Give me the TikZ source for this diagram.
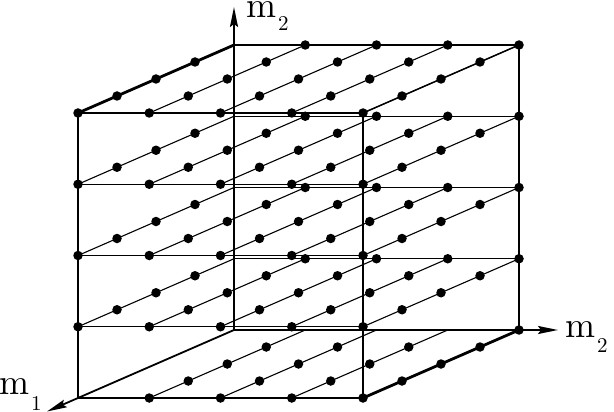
\documentclass[tikz,border=0pt]{standalone}
\usepackage{fontspec}
\setmainfont{Latin Modern Roman}
\usetikzlibrary{arrows.meta}
\newcommand{\biglab}[2]{\resizebox{30pt}{!}{m}\hspace{2pt}\raisebox{#2}{\resizebox{!}{14pt}{#1}}}
\begin{document}
\begin{tikzpicture}[x=1pt,y=-1pt,
  thinline/.style={line width=1.1pt},
  rowline/.style={line width=1.4pt},
  edgeline/.style={line width=2pt},
  boldedge/.style={line width=2.8pt},
  axisline/.style={line width=1.8pt,-{Stealth[length=20pt,width=8pt,inset=3pt]}},
  dot/.style={circle,fill=black,inner sep=0pt,minimum size=9.5pt},
  axlabel/.style={inner sep=0pt,anchor=base west}
]
\useasboundingbox (0,0) rectangle (614,412);
% lattice coordinates
\foreach \i in {0,...,4}{
  \foreach \j in {0,...,4}{
    \foreach \k in {0,...,4}{
      \coordinate (c\i\j\k) at ({78+71.25*\i+39*\k},{398-71.25*\j-17*\k});
    }
  }
}
% axis end points
\coordinate (zt) at (234,7);
\coordinate (zr) at (558,330);
\coordinate (zl) at (47,411.5);
% depth lines
\foreach \i in {0,...,4}{
  \foreach \j in {0,...,4}{
    \ifnum\i=0 \ifnum\j=0 \else \draw[thinline] (c\i\j0) -- (c\i\j4); \fi
    \else \draw[thinline] (c\i\j0) -- (c\i\j4); \fi
  }
}
\draw[boldedge] (c040) -- (c044);
\draw[boldedge] (c400) -- (c404);
\draw[rowline] (c440) -- (c444);
% front rows and back rows
\foreach \j in {1,2,3}{
  \draw[rowline] (c0\j0) -- (c4\j0);
  \draw[thinline] (c0\j4) -- (c4\j4);
}
% front face
\draw[edgeline] (c000) -- (c400) -- (c440) -- (c040) -- cycle;
% back face edges
\draw[edgeline] (c044) -- (c444) -- (c404);
% axes
\draw[axisline] (c004) -- (zt);
\draw[axisline] (c004) -- (zr);
\draw[axisline] (c004) -- (zl);
% dots
\foreach \i in {0,...,4}{
  \foreach \j in {0,...,4}{
    \foreach \k in {0,...,4}{
      \pgfmathtruncatemacro{\skip}{((\i==0)&&(\j==0)) || ((\i==0)&&(\k==4)) || ((\j==0)&&(\k==4)&&(\i<4)) ? 1 : 0}
      \ifnum\skip=0
        \node[dot] (d\i\j\k) at (c\i\j\k) {};
      \fi
    }
  }
}
% labels
\node[axlabel] (lt) at (246,18) {\biglab{2}{-13pt}};
\node[axlabel] (lr) at (565,337) {\biglab{2}{-15pt}};
\node[axlabel] (ll) at (-1,394) {\biglab{1}{-16pt}};
\end{tikzpicture}
\end{document}
